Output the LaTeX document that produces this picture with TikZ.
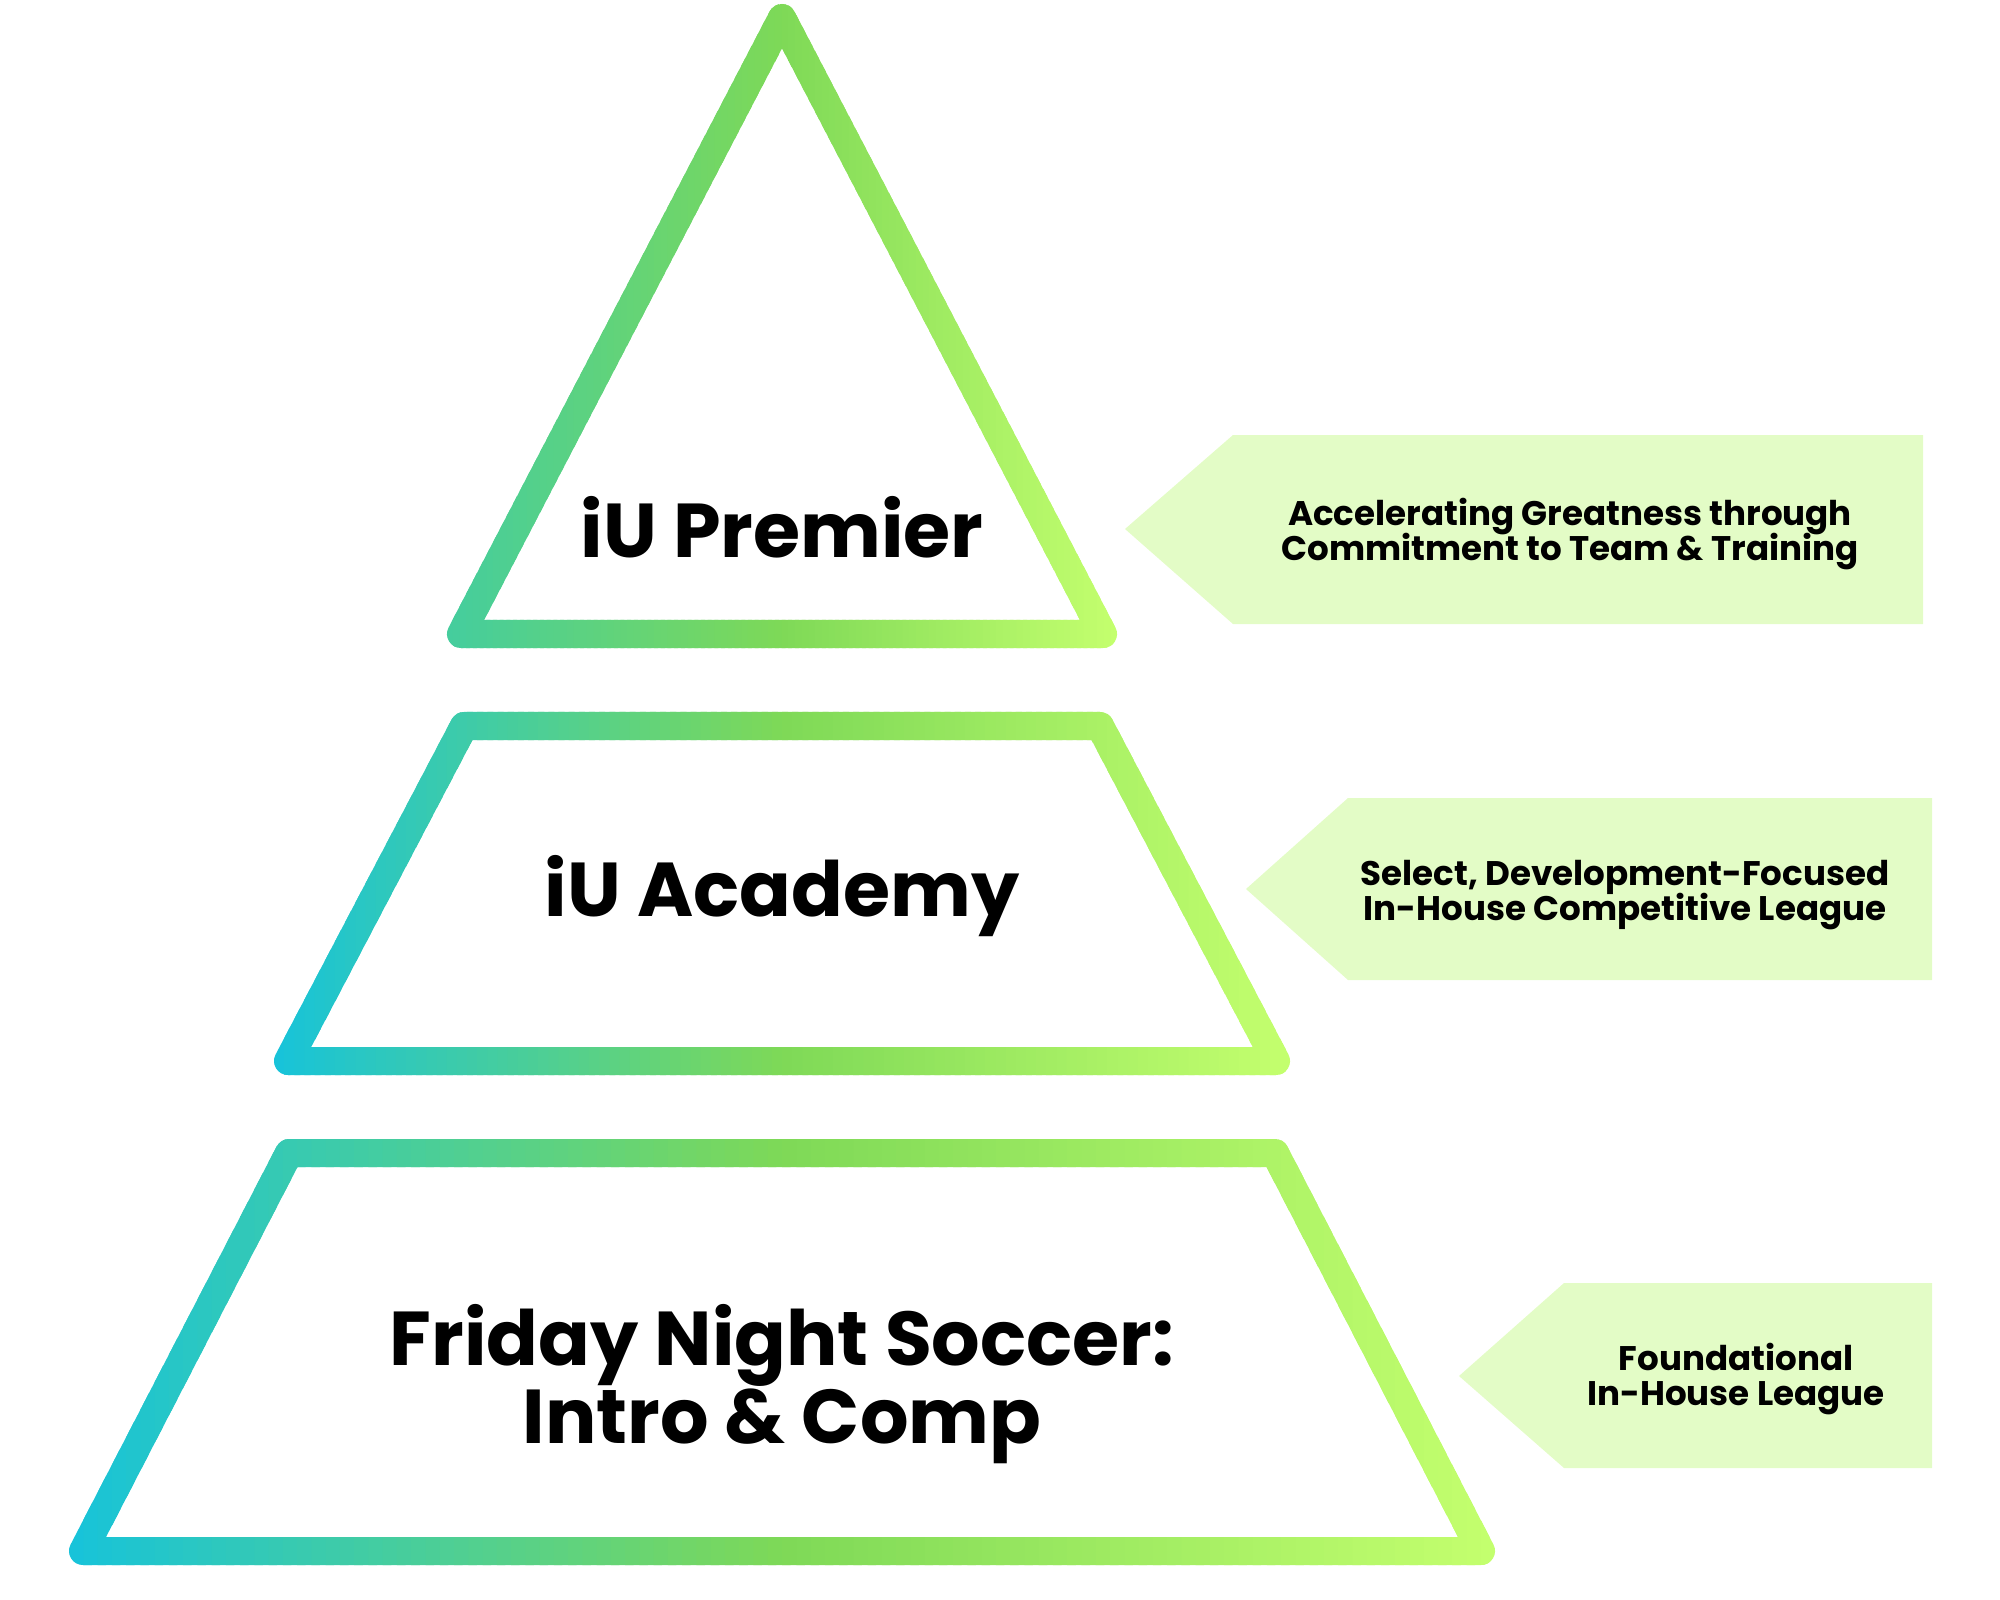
\documentclass[tikz,border=0pt]{standalone}
\usepackage{fontspec}
\setmainfont{Poppins}
\definecolor{tiercyan}{HTML}{17C3DA}
\definecolor{tierteal}{HTML}{44CD9E}
\definecolor{tiergreen}{HTML}{7ED957}
\definecolor{tierlime}{HTML}{C4FF6E}
\definecolor{notefill}{HTML}{E3FCC6}
\newcommand\tightlines{\lineskiplimit-30pt\relax}

% stroke a closed path with a left-to-right colour ramp, one thin slice at a time
\newcommand\rampdraw[4]{%
  \foreach \k in {0,...,99}{%
    \pgfmathsetmacro\xa{#2+(#3-#2)/100*\k}%
    \pgfmathsetmacro\xb{#2+(#3-#2)/100*(\k+1.6)}%
    \ifnum\k<50
      \pgfmathsetmacro\mix{2*\k+1}%
      \colorlet{rampcol}{tiergreen!\mix!#4}%
    \else
      \pgfmathsetmacro\mix{2*\k-99}%
      \colorlet{rampcol}{tierlime!\mix!tiergreen}%
    \fi
    \begin{scope}
      \clip (\xa,-50) rectangle (\xb,1650);
      \draw[tier,rampcol] #1;
    \end{scope}}}

\begin{document}
\begin{tikzpicture}[x=0.01cm,y=-0.01cm,
   tier/.style={line width=2.8mm,line join=round},
   tiertitle/.style={font=\fontsize{21.7}{22.4}\selectfont\bfseries\tightlines,align=center},
   notetext/.style={font=\fontsize{9.7}{10.1}\selectfont\bfseries\tightlines,align=center},
   note/.style={fill=notefill}]
  \useasboundingbox (0,0) rectangle (2000,1600);
  % tier corners
  \coordinate (peak) at (782,18);
  \coordinate (premierL) at (461,634);
  \coordinate (premierR) at (1103,634);
  \coordinate (academyTL) at (464,726);
  \coordinate (academyTR) at (1100,726);
  \coordinate (academyBL) at (288,1061);
  \coordinate (academyBR) at (1276,1061);
  \coordinate (fnsTL) at (289,1153);
  \coordinate (fnsTR) at (1275,1153);
  \coordinate (fnsBL) at (83,1551);
  \coordinate (fnsBR) at (1481,1551);
  % gradient outlines
  \rampdraw{(peak) -- (premierR) -- (premierL) -- cycle}{446}{1117}{tierteal}
  \rampdraw{(academyTL) -- (academyTR) -- (academyBR) -- (academyBL) -- cycle}{274}{1290}{tiercyan}
  \rampdraw{(fnsTL) -- (fnsTR) -- (fnsBR) -- (fnsBL) -- cycle}{69}{1495}{tiercyan}
  % callout tags
  \fill[note] (1125,529) -- (1233,435) -- (1923,435) -- (1923,624) -- (1233,624) -- cycle;
  \fill[note] (1246,889) -- (1348,798) -- (1932,798) -- (1932,980) -- (1348,980) -- cycle;
  \fill[note] (1459,1376) -- (1564,1283) -- (1932,1283) -- (1932,1468) -- (1564,1468) -- cycle;
  % labels
  \node[tiertitle] (premier) at (782,527) {iU Premier};
  \node[tiertitle] (academy) at (782,896) {iU Academy};
  \node[tiertitle] (fns) at (782,1384) {Friday Night Soccer:\\Intro \& Comp};
  \node[notetext] (premiernote) at (1570,534) {Accelerating Greatness through\\Commitment to Team \& Training};
  \node[notetext] (academynote) at (1625,895) {Select, Development-Focused\\In-House Competitive League};
  \node[notetext] (fnsnote) at (1736,1379) {Foundational\\In-House League};
\end{tikzpicture}
\end{document}
